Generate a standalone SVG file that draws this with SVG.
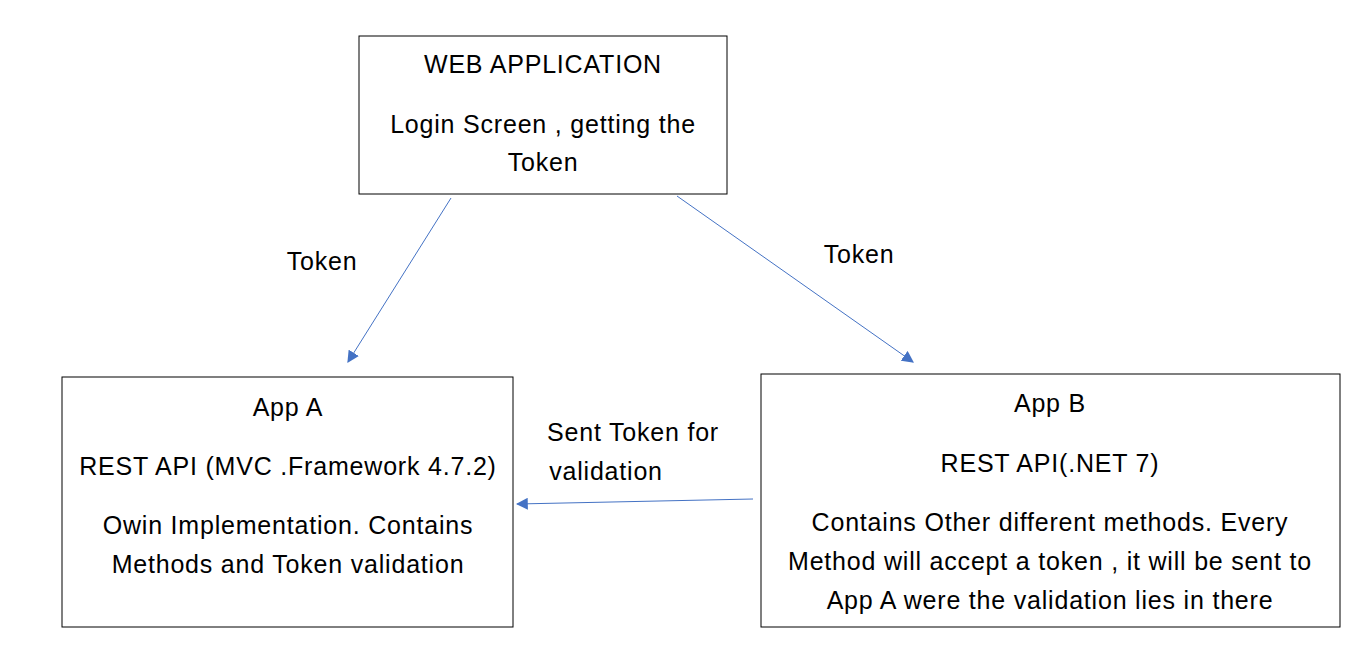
<svg xmlns="http://www.w3.org/2000/svg" width="1367" height="668" viewBox="0 0 1367 668">
<style>
.box{fill:#fff;stroke:#000;stroke-width:1}
text{font-family:"Liberation Sans",Arial,sans-serif;font-size:25px;letter-spacing:0.8px;fill:#000;text-anchor:middle}
.c{stroke:#4472C4;stroke-width:1;fill:none}
</style>
<defs><marker id="ah" viewBox="0 0 10 10" refX="9" refY="5" markerWidth="12" markerHeight="12" markerUnits="userSpaceOnUse" orient="auto"><path d="M0,0L10,5L0,10z" fill="#4472C4"/></marker></defs>
<rect width="1367" height="668" fill="#fff"/>
<g id="web"><rect class="box" x="359" y="36" width="368" height="158"/>
<text x="543" y="73">WEB APPLICATION</text>
<text x="543" y="133">Login Screen , getting the</text>
<text x="543" y="171">Token</text></g>
<g id="appA"><rect class="box" x="62" y="377" width="451" height="250"/>
<text x="288" y="416">App A</text>
<text x="288" y="475">REST API (MVC .Framework 4.7.2)</text>
<text x="288" y="534">Owin Implementation. Contains</text>
<text x="288" y="573">Methods and Token validation</text></g>
<g id="appB"><rect class="box" x="761" y="374" width="579" height="253"/>
<text x="1050" y="412">App B</text>
<text x="1050" y="472">REST API(.NET 7)</text>
<text x="1050" y="531">Contains Other different methods. Every</text>
<text x="1050" y="570">Method will accept a token , it will be sent to</text>
<text x="1050" y="609">App A were the validation lies in there</text></g>
<g id="connectors">
<line class="c" x1="451" y1="198" x2="348" y2="362" marker-end="url(#ah)"/>
<line class="c" x1="677" y1="196" x2="913" y2="362" marker-end="url(#ah)"/>
<line class="c" x1="753" y1="499" x2="517" y2="504" marker-end="url(#ah)"/>
<text x="322" y="270">Token</text>
<text x="859" y="263">Token</text>
<text x="633" y="441">Sent Token for</text>
<text x="606" y="480">validation</text>
</g>
</svg>
